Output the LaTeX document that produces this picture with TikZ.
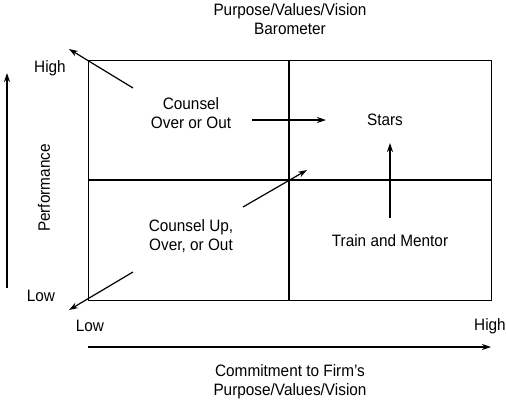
\documentclass[tikz,border=0pt]{standalone}
\usepackage{fontspec}
\setmainfont{Liberation Sans}[FakeStretch=0.93]
\usetikzlibrary{arrows.meta}
\begin{document}
\begin{tikzpicture}[x=1pt,y=-1pt,
  lbl/.style={font=\fontsize{16.5}{19}\selectfont, inner sep=0pt, align=center},
  ln/.style={line width=1.2pt},
  arr/.style={line width=1.2pt,-{Stealth[length=9pt,width=6pt]}}]
\useasboundingbox (0,0) rectangle (506,400);
% grid
\node[draw, line width=1.2pt, minimum width=403pt, minimum height=240pt, inner sep=0pt, anchor=north west] (box) at (88,60) {};
\coordinate (vt) at (289,60); \coordinate (vb) at (289,300);
\coordinate (hl) at (88,180); \coordinate (hr) at (491,180);
\draw[ln] (vt) -- (vb);
\draw[ln] (hl) -- (hr);
% labels
\node[lbl] (title) at (290,19) {Purpose/Values/Vision\\Barometer};
\node[lbl] (hi) at (50,68) {High};
\node[lbl] (lo) at (41,296) {Low};
\node[lbl] (xlo) at (90,326) {Low};
\node[lbl] (xhi) at (490,326) {High};
\node[lbl, rotate=90] (perf) at (44,188) {Performance};
\node[lbl] (q1) at (191,113) {Counsel\\Over or Out};
\node[lbl] (q2) at (385,120) {Stars};
\node[lbl] (q3) at (191,236) {Counsel Up,\\Over, or Out};
\node[lbl] (q4) at (390,241) {Train and Mentor};
\node[lbl] (xt) at (290,382) {Commitment to Firm’s\\Purpose/Values/Vision};
% arrows
\coordinate (a1s) at (133,88); \coordinate (a1e) at (69,49);
\coordinate (a2s) at (133,272); \coordinate (a2e) at (69,310);
\coordinate (a3s) at (252,120); \coordinate (a3e) at (326,120);
\coordinate (a4s) at (243,207); \coordinate (a4e) at (307,170);
\coordinate (a5s) at (390,218); \coordinate (a5e) at (390,143);
\coordinate (yb) at (7,288); \coordinate (yt) at (7,73);
\coordinate (xl) at (88,347); \coordinate (xr) at (491,347);
\draw[arr] (a1s) -- (a1e);
\draw[arr] (a2s) -- (a2e);
\draw[arr] (a3s) -- (a3e);
\draw[arr] (a4s) -- (a4e);
\draw[arr] (a5s) -- (a5e);
\draw[arr] (yb) -- (yt);
\draw[arr] (xl) -- (xr);
\end{tikzpicture}
\end{document}
